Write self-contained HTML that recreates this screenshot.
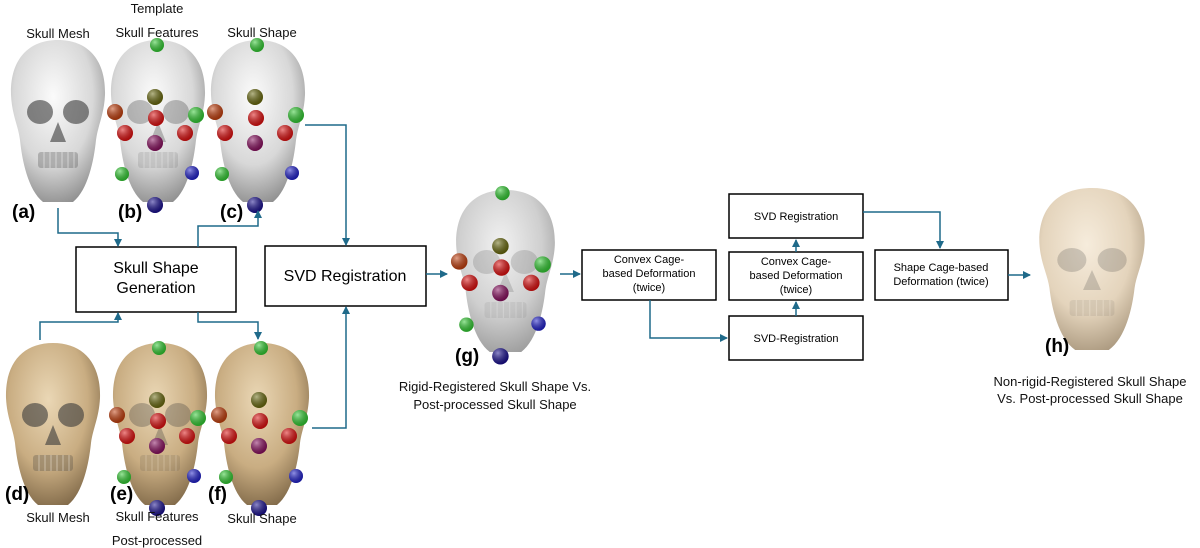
<!DOCTYPE html>
<html><head><meta charset="utf-8"><style>
body{margin:0;width:1200px;height:548px;background:#fff;overflow:hidden;font-family:"Liberation Sans",sans-serif}
svg{position:absolute;left:0;top:0}
</style></head><body>
<svg width="1200" height="548" viewBox="0 0 1200 548">
<defs>
<radialGradient id="gw" cx="45%" cy="35%" r="70%"><stop offset="0" stop-color="#fbfbfb"/><stop offset=".6" stop-color="#d8d8d8"/><stop offset="1" stop-color="#8a8a8a"/></radialGradient>
<radialGradient id="gt" cx="45%" cy="35%" r="70%"><stop offset="0" stop-color="#ead7b5"/><stop offset=".6" stop-color="#c9ad82"/><stop offset="1" stop-color="#7d6646"/></radialGradient>
<radialGradient id="gh" cx="45%" cy="35%" r="70%"><stop offset="0" stop-color="#f6ecdc"/><stop offset=".6" stop-color="#e4d4bc"/><stop offset="1" stop-color="#a8967c"/></radialGradient>
<radialGradient id="gg" cx="45%" cy="35%" r="70%"><stop offset="0" stop-color="#f2f2f2"/><stop offset=".6" stop-color="#cfcfcf"/><stop offset="1" stop-color="#9a9a9a"/></radialGradient>
<radialGradient id="sh" cx="35%" cy="30%" r="70%"><stop offset="0" stop-color="#fff" stop-opacity=".5"/><stop offset="1" stop-color="#000" stop-opacity=".25"/></radialGradient>
<g id="skull">
<path d="M50 0 C80 0 98 20 97 55 C96 75 90 85 88 100 C86 120 80 150 65 162 L35 162 C20 150 14 120 12 100 C10 85 4 75 3 55 C2 20 20 0 50 0 Z"/>
</g>
<g id="face" fill="#3a3a3a" opacity=".6">
<ellipse cx="32" cy="72" rx="13" ry="12"/><ellipse cx="68" cy="72" rx="13" ry="12"/>
<path d="M50 82 L42 102 L58 102 Z"/>
<rect x="30" y="112" width="40" height="16" rx="3" opacity=".45"/>
<path d="M36 112 V128 M42 112 V128 M48 112 V128 M54 112 V128 M60 112 V128 M66 112 V128" stroke="#fff" stroke-width="1" opacity=".6"/>
</g>
<g id="dots">
<circle cx="49" cy="5" r="7" fill="#3c3"/>
<circle cx="47" cy="57" r="8" fill="#6b6b10"/>
<circle cx="7" cy="72" r="8" fill="#c4400e"/>
<circle cx="48" cy="78" r="8" fill="#e01010"/>
<circle cx="88" cy="75" r="8" fill="#3c3"/>
<circle cx="17" cy="93" r="8" fill="#e01010"/>
<circle cx="77" cy="93" r="8" fill="#e01010"/>
<circle cx="47" cy="103" r="8" fill="#8a1060"/>
<circle cx="14" cy="134" r="7" fill="#3c3"/>
<circle cx="84" cy="133" r="7" fill="#2222cc"/>
<circle cx="47" cy="165" r="8" fill="#1a1090"/>
</g>
<g id="lm"><use href="#dots"/><g fill="url(#sh)">
<circle cx="49" cy="5" r="7"/><circle cx="47" cy="57" r="8"/><circle cx="7" cy="72" r="8"/><circle cx="48" cy="78" r="8"/><circle cx="88" cy="75" r="8"/><circle cx="17" cy="93" r="8"/><circle cx="77" cy="93" r="8"/><circle cx="47" cy="103" r="8"/><circle cx="14" cy="134" r="7"/><circle cx="84" cy="133" r="7"/><circle cx="47" cy="165" r="8"/></g></g>
<marker id="ar" markerWidth="8" markerHeight="8" refX="7" refY="4" orient="auto" markerUnits="userSpaceOnUse"><path d="M0 0 L8 4 L0 8 Z" fill="#1f6a8a"/></marker>
</defs>

<g transform="translate(8,40)" fill="url(#gw)"><use href="#skull"/><use href="#face"/></g>
<g transform="translate(108,40)" fill="url(#gw)"><use href="#skull"/><use href="#face" opacity=".5"/><use href="#lm"/></g>
<g transform="translate(208,40)" fill="url(#gw)"><use href="#skull"/><use href="#lm"/></g>
<g transform="translate(3,343)" fill="url(#gt)"><use href="#skull"/><use href="#face"/></g>
<g transform="translate(110,343)" fill="url(#gt)"><use href="#skull"/><use href="#face" opacity=".5"/><use href="#lm"/></g>
<g transform="translate(212,343)" fill="url(#gt)"><use href="#skull"/><use href="#lm"/></g>
<g transform="translate(453,190) scale(1.05,1.0)" fill="url(#gg)"><use href="#skull"/><use href="#face" opacity=".3"/></g>
<g transform="translate(452,188) scale(1.03,1.02)"><use href="#lm"/></g>
<g transform="translate(1036,188) scale(1.12,1.0)" fill="url(#gh)"><use href="#skull"/><use href="#face" opacity=".35"/></g>

<g fill="#fff" stroke="#000" stroke-width="1.5">
<rect x="76" y="247" width="160" height="65"/>
<rect x="265" y="246" width="161" height="60"/>
<rect x="582" y="250" width="134" height="50"/>
<rect x="729" y="194" width="134" height="44"/>
<rect x="729" y="252" width="134" height="48"/>
<rect x="729" y="316" width="134" height="44"/>
<rect x="875" y="250" width="133" height="50"/>
</g>

<g fill="none" stroke="#1f6a8a" stroke-width="1.5" marker-end="url(#ar)">
<path d="M58 208 V233 H118 V246"/>
<path d="M198 247 V226 H258 V211"/>
<path d="M305 125 H346 V245"/>
<path d="M40 340 V322 H118 V313"/>
<path d="M198 312 V322 H258 V339"/>
<path d="M312 428 H346 V307"/>
<path d="M426 274 H447"/>
<path d="M560 274 H580"/>
<path d="M650 300 V338 H727"/>
<path d="M796 252 V240"/>
<path d="M796 316 V302"/>
<path d="M863 212 H940 V248"/>
<path d="M1008 275 H1030"/>
</g>

<g font-size="13" text-anchor="middle" fill="#111">
<text x="58" y="38">Skull Mesh</text>
<text x="157" y="13">Template</text>
<text x="157" y="37">Skull Features</text>
<text x="262" y="37">Skull Shape</text>
<text x="58" y="522">Skull Mesh</text>
<text x="157" y="521">Skull Features</text>
<text x="262" y="523">Skull Shape</text>
<text x="157" y="545">Post-processed</text>
<text x="495" y="391">Rigid-Registered Skull Shape Vs.</text>
<text x="495" y="409">Post-processed Skull Shape</text>
<text x="1090" y="386">Non-rigid-Registered Skull Shape</text>
<text x="1090" y="403">Vs. Post-processed Skull Shape</text>
</g>
<g font-size="19" font-weight="bold" fill="#000">
<text x="12" y="218">(a)</text><text x="118" y="218">(b)</text><text x="220" y="218">(c)</text>
<text x="5" y="500">(d)</text><text x="110" y="500">(e)</text><text x="208" y="500">(f)</text>
<text x="455" y="362">(g)</text><text x="1045" y="352">(h)</text>
</g>
<g font-size="16" text-anchor="middle" fill="#000">
<text x="156" y="273">Skull Shape</text><text x="156" y="293">Generation</text>
<text x="345" y="281">SVD Registration</text>
</g>
<g font-size="11" text-anchor="middle" fill="#000">
<text x="649" y="263">Convex Cage-</text><text x="649" y="277">based Deformation</text><text x="649" y="291">(twice)</text>
<text x="796" y="220">SVD Registration</text>
<text x="796" y="265">Convex Cage-</text><text x="796" y="279">based Deformation</text><text x="796" y="293">(twice)</text>
<text x="796" y="342">SVD-Registration</text>
<text x="941" y="271">Shape Cage-based</text><text x="941" y="285">Deformation (twice)</text>
</g>
</svg>
</body></html>
